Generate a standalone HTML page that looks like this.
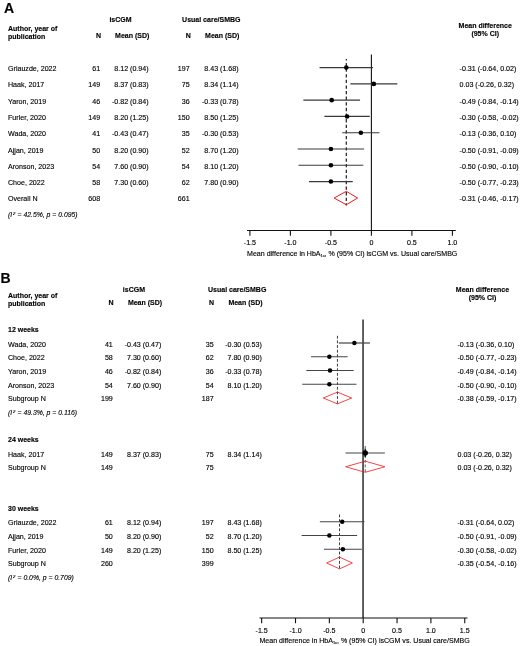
<!DOCTYPE html>
<html><head><meta charset="utf-8"><title>Forest plot</title>
<style>
html,body{margin:0;padding:0;background:#fff;}
svg{display:block;font-family:"Liberation Sans",Arial,sans-serif;}
svg text{stroke:#000;stroke-width:0.13px;paint-order:stroke fill;}
</style></head>
<body>
<svg width="520" height="646" viewBox="0 0 520 646">
<rect width="520" height="646" fill="#fff"/>
<text x="4.00" y="13.10" text-anchor="start" style="font-size:14px;font-weight:bold;" fill="#000">A</text>
<text x="8.00" y="31.00" text-anchor="start" style="font-size:7.0px;font-weight:bold;" fill="#000">Author, year of</text>
<text x="8.00" y="39.40" text-anchor="start" style="font-size:7.0px;font-weight:bold;" fill="#000">publication</text>
<text x="120.50" y="22.10" text-anchor="middle" style="font-size:7.0px;font-weight:bold;" fill="#000">isCGM</text>
<text x="211.30" y="22.10" text-anchor="middle" style="font-size:7.0px;font-weight:bold;" fill="#000">Usual care/SMBG</text>
<text x="98.50" y="38.20" text-anchor="middle" style="font-size:7.0px;font-weight:bold;" fill="#000">N</text>
<text x="132.20" y="38.20" text-anchor="middle" style="font-size:7.0px;font-weight:bold;" fill="#000">Mean (SD)</text>
<text x="188.20" y="38.20" text-anchor="middle" style="font-size:7.0px;font-weight:bold;" fill="#000">N</text>
<text x="222.20" y="38.20" text-anchor="middle" style="font-size:7.0px;font-weight:bold;" fill="#000">Mean (SD)</text>
<text x="485.20" y="27.60" text-anchor="middle" style="font-size:7.0px;font-weight:bold;" fill="#000">Mean difference</text>
<text x="485.20" y="36.00" text-anchor="middle" style="font-size:7.0px;font-weight:bold;" fill="#000">(95% CI)</text>
<line x1="371.40" y1="54.50" x2="371.40" y2="230.50" stroke="#111" stroke-width="1.1"/>
<line x1="247.00" y1="230.50" x2="455.80" y2="230.50" stroke="#111" stroke-width="1.1"/>
<line x1="249.90" y1="230.50" x2="249.90" y2="235.80" stroke="#111" stroke-width="1.1"/>
<text x="249.90" y="245.00" text-anchor="middle" style="font-size:7.1px;" fill="#000">-1.5</text>
<line x1="290.40" y1="230.50" x2="290.40" y2="235.80" stroke="#111" stroke-width="1.1"/>
<text x="290.40" y="245.00" text-anchor="middle" style="font-size:7.1px;" fill="#000">-1.0</text>
<line x1="330.90" y1="230.50" x2="330.90" y2="235.80" stroke="#111" stroke-width="1.1"/>
<text x="330.90" y="245.00" text-anchor="middle" style="font-size:7.1px;" fill="#000">-0.5</text>
<line x1="371.40" y1="230.50" x2="371.40" y2="235.80" stroke="#111" stroke-width="1.1"/>
<text x="371.40" y="245.00" text-anchor="middle" style="font-size:7.1px;" fill="#000">0</text>
<line x1="411.90" y1="230.50" x2="411.90" y2="235.80" stroke="#111" stroke-width="1.1"/>
<text x="411.90" y="245.00" text-anchor="middle" style="font-size:7.1px;" fill="#000">0.5</text>
<line x1="452.40" y1="230.50" x2="452.40" y2="235.80" stroke="#111" stroke-width="1.1"/>
<text x="452.40" y="245.00" text-anchor="middle" style="font-size:7.1px;" fill="#000">1.0</text>
<text x="352.20" y="256.20" text-anchor="middle" style="font-size:7.06px;" fill="#000">Mean difference in HbA<tspan dy="0.5" style="font-size:3.8px">1c</tspan><tspan dy="-0.5">, % (95% CI) isCGM vs. Usual care/SMBG</tspan></text>
<line x1="346.29" y1="58.90" x2="346.29" y2="205.50" stroke="#111" stroke-width="1.15" stroke-dasharray="3.3 2.317" stroke-dashoffset="1.6"/>
<text x="8.00" y="71.10" text-anchor="start" style="font-size:7.1px;" fill="#000">Griauzde, 2022</text>
<text x="100.20" y="71.10" text-anchor="end" style="font-size:7.1px;" fill="#000">61</text>
<text x="148.60" y="71.10" text-anchor="end" style="font-size:7.1px;" fill="#000">8.12 (0.94)</text>
<text x="189.60" y="71.10" text-anchor="end" style="font-size:7.1px;" fill="#000">197</text>
<text x="238.60" y="71.10" text-anchor="end" style="font-size:7.1px;" fill="#000">8.43 (1.68)</text>
<text x="459.60" y="71.10" text-anchor="start" style="font-size:7.1px;" fill="#000">-0.31 (-0.64, 0.02)</text>
<line x1="319.56" y1="67.60" x2="373.02" y2="67.60" stroke="#3a3a3a" stroke-width="1.15"/>
<circle cx="346.29" cy="67.60" r="2.3" fill="#000"/>
<text x="8.00" y="87.38" text-anchor="start" style="font-size:7.1px;" fill="#000">Haak, 2017</text>
<text x="100.20" y="87.38" text-anchor="end" style="font-size:7.1px;" fill="#000">149</text>
<text x="148.60" y="87.38" text-anchor="end" style="font-size:7.1px;" fill="#000">8.37 (0.83)</text>
<text x="189.60" y="87.38" text-anchor="end" style="font-size:7.1px;" fill="#000">75</text>
<text x="238.60" y="87.38" text-anchor="end" style="font-size:7.1px;" fill="#000">8.34 (1.14)</text>
<text x="459.60" y="87.38" text-anchor="start" style="font-size:7.1px;" fill="#000">0.03 (-0.26, 0.32)</text>
<line x1="350.34" y1="83.88" x2="397.32" y2="83.88" stroke="#3a3a3a" stroke-width="1.15"/>
<circle cx="373.83" cy="83.88" r="2.3" fill="#000"/>
<text x="8.00" y="103.66" text-anchor="start" style="font-size:7.1px;" fill="#000">Yaron, 2019</text>
<text x="100.20" y="103.66" text-anchor="end" style="font-size:7.1px;" fill="#000">46</text>
<text x="148.60" y="103.66" text-anchor="end" style="font-size:7.1px;" fill="#000">-0.82 (0.84)</text>
<text x="189.60" y="103.66" text-anchor="end" style="font-size:7.1px;" fill="#000">36</text>
<text x="238.60" y="103.66" text-anchor="end" style="font-size:7.1px;" fill="#000">-0.33 (0.78)</text>
<text x="459.60" y="103.66" text-anchor="start" style="font-size:7.1px;" fill="#000">-0.49 (-0.84, -0.14)</text>
<line x1="303.36" y1="100.16" x2="360.06" y2="100.16" stroke="#3a3a3a" stroke-width="1.15"/>
<circle cx="331.71" cy="100.16" r="2.3" fill="#000"/>
<text x="8.00" y="119.94" text-anchor="start" style="font-size:7.1px;" fill="#000">Furler, 2020</text>
<text x="100.20" y="119.94" text-anchor="end" style="font-size:7.1px;" fill="#000">149</text>
<text x="148.60" y="119.94" text-anchor="end" style="font-size:7.1px;" fill="#000">8.20 (1.25)</text>
<text x="189.60" y="119.94" text-anchor="end" style="font-size:7.1px;" fill="#000">150</text>
<text x="238.60" y="119.94" text-anchor="end" style="font-size:7.1px;" fill="#000">8.50 (1.25)</text>
<text x="459.60" y="119.94" text-anchor="start" style="font-size:7.1px;" fill="#000">-0.30 (-0.58, -0.02)</text>
<line x1="324.42" y1="116.44" x2="369.78" y2="116.44" stroke="#3a3a3a" stroke-width="1.15"/>
<circle cx="347.10" cy="116.44" r="2.3" fill="#000"/>
<text x="8.00" y="136.22" text-anchor="start" style="font-size:7.1px;" fill="#000">Wada, 2020</text>
<text x="100.20" y="136.22" text-anchor="end" style="font-size:7.1px;" fill="#000">41</text>
<text x="148.60" y="136.22" text-anchor="end" style="font-size:7.1px;" fill="#000">-0.43 (0.47)</text>
<text x="189.60" y="136.22" text-anchor="end" style="font-size:7.1px;" fill="#000">35</text>
<text x="238.60" y="136.22" text-anchor="end" style="font-size:7.1px;" fill="#000">-0.30 (0.53)</text>
<text x="459.60" y="136.22" text-anchor="start" style="font-size:7.1px;" fill="#000">-0.13 (-0.36, 0.10)</text>
<line x1="342.24" y1="132.72" x2="379.50" y2="132.72" stroke="#3a3a3a" stroke-width="1.15"/>
<circle cx="360.87" cy="132.72" r="2.3" fill="#000"/>
<text x="8.00" y="152.50" text-anchor="start" style="font-size:7.1px;" fill="#000">Ajjan, 2019</text>
<text x="100.20" y="152.50" text-anchor="end" style="font-size:7.1px;" fill="#000">50</text>
<text x="148.60" y="152.50" text-anchor="end" style="font-size:7.1px;" fill="#000">8.20 (0.90)</text>
<text x="189.60" y="152.50" text-anchor="end" style="font-size:7.1px;" fill="#000">52</text>
<text x="238.60" y="152.50" text-anchor="end" style="font-size:7.1px;" fill="#000">8.70 (1.20)</text>
<text x="459.60" y="152.50" text-anchor="start" style="font-size:7.1px;" fill="#000">-0.50 (-0.91, -0.09)</text>
<line x1="297.69" y1="149.00" x2="364.11" y2="149.00" stroke="#3a3a3a" stroke-width="1.15"/>
<circle cx="330.90" cy="149.00" r="2.3" fill="#000"/>
<text x="8.00" y="168.78" text-anchor="start" style="font-size:7.1px;" fill="#000">Aronson, 2023</text>
<text x="100.20" y="168.78" text-anchor="end" style="font-size:7.1px;" fill="#000">54</text>
<text x="148.60" y="168.78" text-anchor="end" style="font-size:7.1px;" fill="#000">7.60 (0.90)</text>
<text x="189.60" y="168.78" text-anchor="end" style="font-size:7.1px;" fill="#000">54</text>
<text x="238.60" y="168.78" text-anchor="end" style="font-size:7.1px;" fill="#000">8.10 (1.20)</text>
<text x="459.60" y="168.78" text-anchor="start" style="font-size:7.1px;" fill="#000">-0.50 (-0.90, -0.10)</text>
<line x1="298.50" y1="165.28" x2="363.30" y2="165.28" stroke="#3a3a3a" stroke-width="1.15"/>
<circle cx="330.90" cy="165.28" r="2.3" fill="#000"/>
<text x="8.00" y="185.06" text-anchor="start" style="font-size:7.1px;" fill="#000">Choe, 2022</text>
<text x="100.20" y="185.06" text-anchor="end" style="font-size:7.1px;" fill="#000">58</text>
<text x="148.60" y="185.06" text-anchor="end" style="font-size:7.1px;" fill="#000">7.30 (0.60)</text>
<text x="189.60" y="185.06" text-anchor="end" style="font-size:7.1px;" fill="#000">62</text>
<text x="238.60" y="185.06" text-anchor="end" style="font-size:7.1px;" fill="#000">7.80 (0.90)</text>
<text x="459.60" y="185.06" text-anchor="start" style="font-size:7.1px;" fill="#000">-0.50 (-0.77, -0.23)</text>
<line x1="309.03" y1="181.56" x2="352.77" y2="181.56" stroke="#3a3a3a" stroke-width="1.15"/>
<circle cx="330.90" cy="181.56" r="2.3" fill="#000"/>
<text x="8.00" y="201.34" text-anchor="start" style="font-size:7.1px;" fill="#000">Overall N</text>
<text x="100.20" y="201.34" text-anchor="end" style="font-size:7.1px;" fill="#000">608</text>
<text x="189.60" y="201.34" text-anchor="end" style="font-size:7.1px;" fill="#000">661</text>
<text x="459.60" y="201.34" text-anchor="start" style="font-size:7.1px;" fill="#000">-0.31 (-0.46, -0.17)</text>
<polygon points="334.14,198.04 346.29,191.34 357.63,198.04 346.29,204.74" fill="none" stroke="#f01818" stroke-width="1"/>
<text x="8.00" y="217.22" text-anchor="start" style="font-size:6.85px;font-style:italic;" fill="#000">(I<tspan dx="0.8" dy="-2.7" style="font-size:4.3px">2</tspan><tspan dx="0.2" dy="2.7"> = 42.5%, p = 0.095)</tspan></text>
<text x="0.40" y="283.20" text-anchor="start" style="font-size:14px;font-weight:bold;" fill="#000">B</text>
<text x="8.00" y="297.50" text-anchor="start" style="font-size:7.0px;font-weight:bold;" fill="#000">Author, year of</text>
<text x="8.00" y="305.80" text-anchor="start" style="font-size:7.0px;font-weight:bold;" fill="#000">publication</text>
<text x="133.90" y="291.60" text-anchor="middle" style="font-size:7.0px;font-weight:bold;" fill="#000">isCGM</text>
<text x="237.20" y="291.60" text-anchor="middle" style="font-size:7.0px;font-weight:bold;" fill="#000">Usual care/SMBG</text>
<text x="111.00" y="305.40" text-anchor="middle" style="font-size:7.0px;font-weight:bold;" fill="#000">N</text>
<text x="145.00" y="305.40" text-anchor="middle" style="font-size:7.0px;font-weight:bold;" fill="#000">Mean (SD)</text>
<text x="211.60" y="305.40" text-anchor="middle" style="font-size:7.0px;font-weight:bold;" fill="#000">N</text>
<text x="245.50" y="305.40" text-anchor="middle" style="font-size:7.0px;font-weight:bold;" fill="#000">Mean (SD)</text>
<text x="482.50" y="291.80" text-anchor="middle" style="font-size:7.0px;font-weight:bold;" fill="#000">Mean difference</text>
<text x="482.50" y="300.30" text-anchor="middle" style="font-size:7.0px;font-weight:bold;" fill="#000">(95% CI)</text>
<line x1="363.05" y1="319.50" x2="363.05" y2="618.00" stroke="#505050" stroke-width="1.8"/>
<line x1="259.50" y1="618.00" x2="467.50" y2="618.00" stroke="#111" stroke-width="1.1"/>
<line x1="261.65" y1="618.00" x2="261.65" y2="623.20" stroke="#111" stroke-width="1.1"/>
<text x="261.65" y="633.00" text-anchor="middle" style="font-size:7.1px;" fill="#000">-1.5</text>
<line x1="295.50" y1="618.00" x2="295.50" y2="623.20" stroke="#111" stroke-width="1.1"/>
<text x="295.50" y="633.00" text-anchor="middle" style="font-size:7.1px;" fill="#000">-1.0</text>
<line x1="329.35" y1="618.00" x2="329.35" y2="623.20" stroke="#111" stroke-width="1.1"/>
<text x="329.35" y="633.00" text-anchor="middle" style="font-size:7.1px;" fill="#000">-0.5</text>
<line x1="363.20" y1="618.00" x2="363.20" y2="623.20" stroke="#111" stroke-width="1.1"/>
<text x="363.20" y="633.00" text-anchor="middle" style="font-size:7.1px;" fill="#000">0</text>
<line x1="397.05" y1="618.00" x2="397.05" y2="623.20" stroke="#111" stroke-width="1.1"/>
<text x="397.05" y="633.00" text-anchor="middle" style="font-size:7.1px;" fill="#000">0.5</text>
<line x1="430.90" y1="618.00" x2="430.90" y2="623.20" stroke="#111" stroke-width="1.1"/>
<text x="430.90" y="633.00" text-anchor="middle" style="font-size:7.1px;" fill="#000">1.0</text>
<line x1="464.75" y1="618.00" x2="464.75" y2="623.20" stroke="#111" stroke-width="1.1"/>
<text x="464.75" y="633.00" text-anchor="middle" style="font-size:7.1px;" fill="#000">1.5</text>
<text x="364.60" y="643.00" text-anchor="middle" style="font-size:7.06px;" fill="#000">Mean difference in HbA<tspan dy="0.5" style="font-size:3.8px">1c</tspan><tspan dy="-0.5">, % (95% CI) isCGM vs. Usual care/SMBG</tspan></text>
<text x="8.00" y="332.45" text-anchor="start" style="font-size:7.0px;font-weight:bold;" fill="#000">12 weeks</text>
<line x1="337.45" y1="335.80" x2="337.45" y2="404.40" stroke="#1a1a1a" stroke-width="0.85" stroke-dasharray="2.85 1.79"/>
<text x="8.00" y="346.50" text-anchor="start" style="font-size:7.1px;" fill="#000">Wada, 2020</text>
<text x="112.80" y="346.50" text-anchor="end" style="font-size:7.1px;" fill="#000">41</text>
<text x="161.30" y="346.50" text-anchor="end" style="font-size:7.1px;" fill="#000">-0.43 (0.47)</text>
<text x="213.70" y="346.50" text-anchor="end" style="font-size:7.1px;" fill="#000">35</text>
<text x="261.80" y="346.50" text-anchor="end" style="font-size:7.1px;" fill="#000">-0.30 (0.53)</text>
<text x="457.50" y="346.50" text-anchor="start" style="font-size:7.1px;" fill="#000">-0.13 (-0.36, 0.10)</text>
<line x1="338.83" y1="343.00" x2="369.97" y2="343.00" stroke="#444" stroke-width="1.2"/>
<circle cx="354.40" cy="343.00" r="2.25" fill="#000"/>
<text x="8.00" y="360.25" text-anchor="start" style="font-size:7.1px;" fill="#000">Choe, 2022</text>
<text x="112.80" y="360.25" text-anchor="end" style="font-size:7.1px;" fill="#000">58</text>
<text x="161.30" y="360.25" text-anchor="end" style="font-size:7.1px;" fill="#000">7.30 (0.60)</text>
<text x="213.70" y="360.25" text-anchor="end" style="font-size:7.1px;" fill="#000">62</text>
<text x="261.80" y="360.25" text-anchor="end" style="font-size:7.1px;" fill="#000">7.80 (0.90)</text>
<text x="457.50" y="360.25" text-anchor="start" style="font-size:7.1px;" fill="#000">-0.50 (-0.77, -0.23)</text>
<line x1="311.07" y1="356.75" x2="347.63" y2="356.75" stroke="#444" stroke-width="1.2"/>
<circle cx="329.35" cy="356.75" r="2.25" fill="#000"/>
<text x="8.00" y="374.00" text-anchor="start" style="font-size:7.1px;" fill="#000">Yaron, 2019</text>
<text x="112.80" y="374.00" text-anchor="end" style="font-size:7.1px;" fill="#000">46</text>
<text x="161.30" y="374.00" text-anchor="end" style="font-size:7.1px;" fill="#000">-0.82 (0.84)</text>
<text x="213.70" y="374.00" text-anchor="end" style="font-size:7.1px;" fill="#000">36</text>
<text x="261.80" y="374.00" text-anchor="end" style="font-size:7.1px;" fill="#000">-0.33 (0.78)</text>
<text x="457.50" y="374.00" text-anchor="start" style="font-size:7.1px;" fill="#000">-0.49 (-0.84, -0.14)</text>
<line x1="306.33" y1="370.50" x2="353.72" y2="370.50" stroke="#444" stroke-width="1.2"/>
<circle cx="330.03" cy="370.50" r="2.25" fill="#000"/>
<text x="8.00" y="387.75" text-anchor="start" style="font-size:7.1px;" fill="#000">Aronson, 2023</text>
<text x="112.80" y="387.75" text-anchor="end" style="font-size:7.1px;" fill="#000">54</text>
<text x="161.30" y="387.75" text-anchor="end" style="font-size:7.1px;" fill="#000">7.60 (0.90)</text>
<text x="213.70" y="387.75" text-anchor="end" style="font-size:7.1px;" fill="#000">54</text>
<text x="261.80" y="387.75" text-anchor="end" style="font-size:7.1px;" fill="#000">8.10 (1.20)</text>
<text x="457.50" y="387.75" text-anchor="start" style="font-size:7.1px;" fill="#000">-0.50 (-0.90, -0.10)</text>
<line x1="302.27" y1="384.25" x2="356.43" y2="384.25" stroke="#444" stroke-width="1.2"/>
<circle cx="329.35" cy="384.25" r="2.25" fill="#000"/>
<text x="8.00" y="401.00" text-anchor="start" style="font-size:7.1px;" fill="#000">Subgroup N</text>
<text x="112.80" y="401.00" text-anchor="end" style="font-size:7.1px;" fill="#000">199</text>
<text x="213.70" y="401.00" text-anchor="end" style="font-size:7.1px;" fill="#000">187</text>
<text x="457.50" y="401.00" text-anchor="start" style="font-size:7.1px;" fill="#000">-0.38 (-0.59, -0.17)</text>
<polygon points="323.26,398.00 337.47,392.10 351.69,398.00 337.47,403.90" fill="none" stroke="#f01818" stroke-width="0.8"/>
<text x="8.00" y="415.25" text-anchor="start" style="font-size:6.85px;font-style:italic;" fill="#000">(I<tspan dx="0.8" dy="-2.7" style="font-size:4.3px">2</tspan><tspan dx="0.2" dy="2.7"> = 49.3%, p = 0.116)</tspan></text>
<text x="8.00" y="442.45" text-anchor="start" style="font-size:7.0px;font-weight:bold;" fill="#000">24 weeks</text>
<line x1="365.23" y1="446.00" x2="365.23" y2="473.20" stroke="#333" stroke-width="0.8" stroke-dasharray="2.85 1.79"/>
<text x="8.00" y="456.50" text-anchor="start" style="font-size:7.1px;" fill="#000">Haak, 2017</text>
<text x="112.80" y="456.50" text-anchor="end" style="font-size:7.1px;" fill="#000">149</text>
<text x="161.30" y="456.50" text-anchor="end" style="font-size:7.1px;" fill="#000">8.37 (0.83)</text>
<text x="213.70" y="456.50" text-anchor="end" style="font-size:7.1px;" fill="#000">75</text>
<text x="261.80" y="456.50" text-anchor="end" style="font-size:7.1px;" fill="#000">8.34 (1.14)</text>
<text x="457.50" y="456.50" text-anchor="start" style="font-size:7.1px;" fill="#000">0.03 (-0.26, 0.32)</text>
<line x1="345.60" y1="453.00" x2="384.86" y2="453.00" stroke="#444" stroke-width="1.2"/>
<circle cx="365.23" cy="453.00" r="2.25" fill="#000"/>
<line x1="365.23" y1="448.80" x2="365.23" y2="457.00" stroke="#000" stroke-width="1.3"/>
<circle cx="365.23" cy="453.00" r="2.7" fill="#000"/>
<text x="8.00" y="469.75" text-anchor="start" style="font-size:7.1px;" fill="#000">Subgroup N</text>
<text x="112.80" y="469.75" text-anchor="end" style="font-size:7.1px;" fill="#000">149</text>
<text x="213.70" y="469.75" text-anchor="end" style="font-size:7.1px;" fill="#000">75</text>
<text x="457.50" y="469.75" text-anchor="start" style="font-size:7.1px;" fill="#000">0.03 (-0.26, 0.32)</text>
<polygon points="345.60,466.75 365.23,461.20 384.86,466.75 365.23,472.30" fill="none" stroke="#f01818" stroke-width="0.8"/>
<text x="8.00" y="511.20" text-anchor="start" style="font-size:7.0px;font-weight:bold;" fill="#000">30 weeks</text>
<line x1="339.50" y1="514.50" x2="339.50" y2="569.50" stroke="#1a1a1a" stroke-width="0.85" stroke-dasharray="2.85 1.79"/>
<text x="8.00" y="525.25" text-anchor="start" style="font-size:7.1px;" fill="#000">Griauzde, 2022</text>
<text x="112.80" y="525.25" text-anchor="end" style="font-size:7.1px;" fill="#000">61</text>
<text x="161.30" y="525.25" text-anchor="end" style="font-size:7.1px;" fill="#000">8.12 (0.94)</text>
<text x="213.70" y="525.25" text-anchor="end" style="font-size:7.1px;" fill="#000">197</text>
<text x="261.80" y="525.25" text-anchor="end" style="font-size:7.1px;" fill="#000">8.43 (1.68)</text>
<text x="457.50" y="525.25" text-anchor="start" style="font-size:7.1px;" fill="#000">-0.31 (-0.64, 0.02)</text>
<line x1="319.87" y1="521.75" x2="364.55" y2="521.75" stroke="#444" stroke-width="1.2"/>
<circle cx="342.21" cy="521.75" r="2.25" fill="#000"/>
<text x="8.00" y="539.00" text-anchor="start" style="font-size:7.1px;" fill="#000">Ajjan, 2019</text>
<text x="112.80" y="539.00" text-anchor="end" style="font-size:7.1px;" fill="#000">50</text>
<text x="161.30" y="539.00" text-anchor="end" style="font-size:7.1px;" fill="#000">8.20 (0.90)</text>
<text x="213.70" y="539.00" text-anchor="end" style="font-size:7.1px;" fill="#000">52</text>
<text x="261.80" y="539.00" text-anchor="end" style="font-size:7.1px;" fill="#000">8.70 (1.20)</text>
<text x="457.50" y="539.00" text-anchor="start" style="font-size:7.1px;" fill="#000">-0.50 (-0.91, -0.09)</text>
<line x1="301.59" y1="535.50" x2="357.11" y2="535.50" stroke="#444" stroke-width="1.2"/>
<circle cx="329.35" cy="535.50" r="2.25" fill="#000"/>
<text x="8.00" y="552.75" text-anchor="start" style="font-size:7.1px;" fill="#000">Furler, 2020</text>
<text x="112.80" y="552.75" text-anchor="end" style="font-size:7.1px;" fill="#000">149</text>
<text x="161.30" y="552.75" text-anchor="end" style="font-size:7.1px;" fill="#000">8.20 (1.25)</text>
<text x="213.70" y="552.75" text-anchor="end" style="font-size:7.1px;" fill="#000">150</text>
<text x="261.80" y="552.75" text-anchor="end" style="font-size:7.1px;" fill="#000">8.50 (1.25)</text>
<text x="457.50" y="552.75" text-anchor="start" style="font-size:7.1px;" fill="#000">-0.30 (-0.58, -0.02)</text>
<line x1="323.93" y1="549.25" x2="361.85" y2="549.25" stroke="#444" stroke-width="1.2"/>
<circle cx="342.89" cy="549.25" r="2.25" fill="#000"/>
<text x="8.00" y="566.00" text-anchor="start" style="font-size:7.1px;" fill="#000">Subgroup N</text>
<text x="112.80" y="566.00" text-anchor="end" style="font-size:7.1px;" fill="#000">260</text>
<text x="213.70" y="566.00" text-anchor="end" style="font-size:7.1px;" fill="#000">399</text>
<text x="457.50" y="566.00" text-anchor="start" style="font-size:7.1px;" fill="#000">-0.35 (-0.54, -0.16)</text>
<polygon points="326.64,563.00 339.50,557.10 352.37,563.00 339.50,568.90" fill="none" stroke="#f01818" stroke-width="0.8"/>
<text x="8.00" y="580.25" text-anchor="start" style="font-size:6.85px;font-style:italic;" fill="#000">(I<tspan dx="0.8" dy="-2.7" style="font-size:4.3px">2</tspan><tspan dx="0.2" dy="2.7"> = 0.0%, p = 0.709)</tspan></text>
</svg>
</body></html>
